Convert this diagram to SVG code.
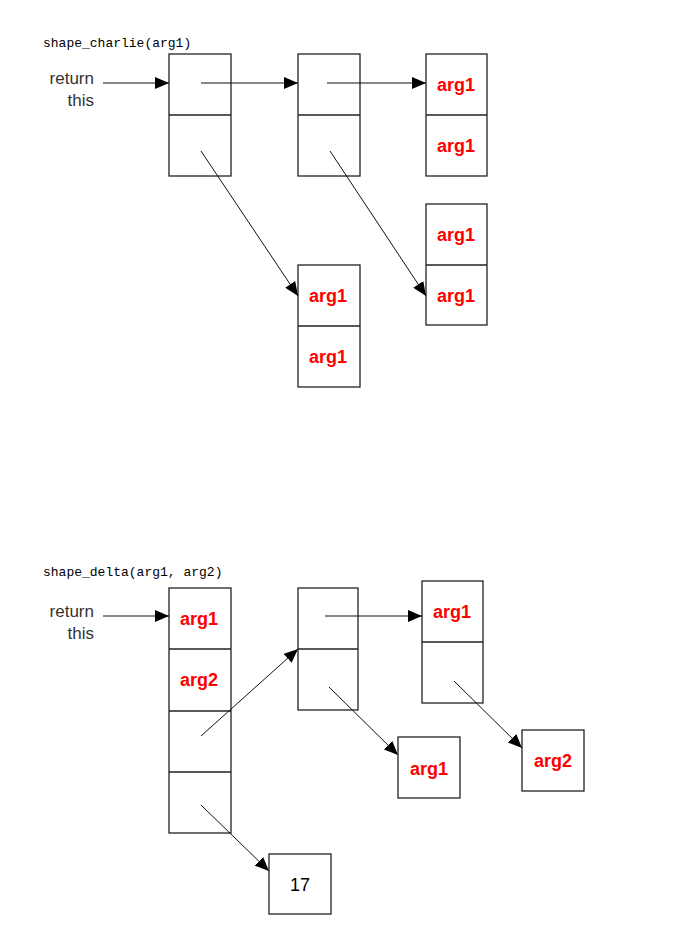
<svg xmlns="http://www.w3.org/2000/svg" width="683" height="930" viewBox="0 0 683 930">
<style>
.b{fill:#fff;stroke:#222;stroke-width:1.3}
.d{stroke:#222;stroke-width:1.3}
.r{font-family:"Liberation Sans",Arial,sans-serif;font-weight:bold;font-size:18px;fill:#f00;text-anchor:middle}
.n{font-family:"Liberation Sans",Arial,sans-serif;font-size:18px;fill:#000;text-anchor:middle}
.t{font-family:"Liberation Mono",monospace;font-size:13px;fill:#000}
.rt{font-family:"Liberation Sans",Arial,sans-serif;font-size:17px;fill:#333;text-anchor:end}
.c{stroke:#111;stroke-width:1;fill:none;marker-end:url(#ah)}
</style>
<defs><marker id="ah" markerWidth="14" markerHeight="12" refX="14" refY="6" orient="auto" markerUnits="userSpaceOnUse"><path d="M0,0L14,6L0,12z" fill="#000"/></marker></defs>
<rect width="683" height="930" fill="#fff"/>
<text class="t" x="43" y="47">shape_charlie(arg1)</text>
<text class="rt" x="94" y="84">return</text><text class="rt" x="94" y="106">this</text>
<g id="A"><rect class="b" x="169" y="54" width="62" height="122"/><line class="d" x1="169" y1="115" x2="231" y2="115"/></g>
<g id="B"><rect class="b" x="298" y="54" width="62" height="122"/><line class="d" x1="298" y1="115" x2="360" y2="115"/></g>
<g id="C"><rect class="b" x="426" y="54" width="61" height="122"/><line class="d" x1="426" y1="115" x2="487" y2="115"/><text class="r" x="456" y="91">arg1</text><text class="r" x="456" y="152">arg1</text></g>
<g id="D"><rect class="b" x="426" y="204" width="61" height="121"/><line class="d" x1="426" y1="265" x2="487" y2="265"/><text class="r" x="456" y="241">arg1</text><text class="r" x="456" y="302">arg1</text></g>
<g id="E"><rect class="b" x="298" y="265" width="62" height="122"/><line class="d" x1="298" y1="326" x2="360" y2="326"/><text class="r" x="328" y="302">arg1</text><text class="r" x="328" y="363">arg1</text></g>
<text class="t" x="43" y="576">shape_delta(arg1, arg2)</text>
<text class="rt" x="94" y="617">return</text><text class="rt" x="94" y="639">this</text>
<g id="F"><rect class="b" x="169" y="588" width="62" height="245"/><line class="d" x1="169" y1="649" x2="231" y2="649"/><line class="d" x1="169" y1="711" x2="231" y2="711"/><line class="d" x1="169" y1="772" x2="231" y2="772"/><text class="r" x="199" y="625">arg1</text><text class="r" x="199" y="686">arg2</text></g>
<g id="G"><rect class="b" x="298" y="588" width="60" height="122"/><line class="d" x1="298" y1="649" x2="358" y2="649"/></g>
<g id="H"><rect class="b" x="422" y="581" width="61" height="122"/><line class="d" x1="422" y1="642" x2="483" y2="642"/><text class="r" x="452" y="618">arg1</text></g>
<g id="I"><rect class="b" x="398" y="737" width="62" height="61"/><text class="r" x="429" y="775">arg1</text></g>
<g id="J"><rect class="b" x="522" y="730" width="62" height="61"/><text class="r" x="553" y="767">arg2</text></g>
<g id="K"><rect class="b" x="269" y="854" width="62" height="60"/><text class="n" x="300" y="891">17</text></g>
<g id="connectors">
<line class="c" x1="103" y1="83" x2="169" y2="83"/>
<line class="c" x1="201" y1="83" x2="298" y2="83"/>
<line class="c" x1="327" y1="83" x2="426" y2="83"/>
<line class="c" x1="201" y1="151" x2="298" y2="296"/>
<line class="c" x1="330" y1="151" x2="426" y2="296"/>
<line class="c" x1="103" y1="616" x2="169" y2="616"/>
<line class="c" x1="201" y1="736" x2="298" y2="649"/>
<line class="c" x1="325" y1="616" x2="422" y2="616"/>
<line class="c" x1="329" y1="687" x2="398" y2="755"/>
<line class="c" x1="454" y1="681" x2="522" y2="748"/>
<line class="c" x1="201" y1="805" x2="269" y2="871"/>
</g>
</svg>
